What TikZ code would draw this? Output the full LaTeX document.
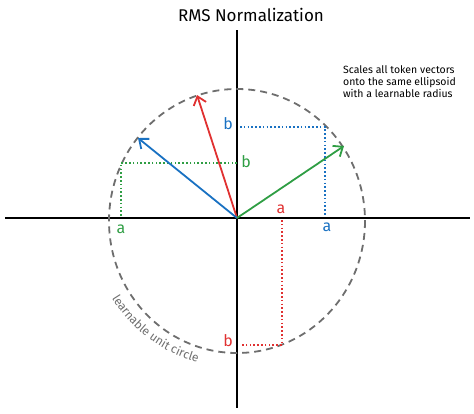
\documentclass[tikz,border=0pt]{standalone}
\usepackage{fontspec}
\setmainfont{Fira Sans}
\usetikzlibrary{arrows.meta,decorations.text}
\definecolor{xred}{HTML}{E03131}
\definecolor{xblue}{HTML}{1971C2}
\definecolor{xgreen}{HTML}{2F9E44}
\definecolor{xgray}{HTML}{6E6E6E}
\begin{document}
\begin{tikzpicture}[x=1pt,y=-1pt,
  axis/.style={line width=2pt,black},
  vec/.style={line width=1.8pt,-{Straight Barb[length=8pt,width=13pt,line width=1.8pt]}},
  proj/.style={line width=1.6pt,dash pattern=on 1.6pt off 2.2pt},
  lab/.style={font=\fontsize{16}{16}\selectfont,inner sep=0pt},
  note/.style={font=\fontsize{10.5}{12}\selectfont,align=left,inner sep=0pt}]
\useasboundingbox (0,0) rectangle (474,413);
% axes
\coordinate (O) at (237,218);
\coordinate (xl) at (5,218);
\coordinate (xr) at (470,218);
\coordinate (yt) at (237,30);
\coordinate (yb) at (237,408);
\draw[axis] (xl) -- (xr);
\draw[axis] (yt) -- (yb);
% circle
\coordinate (C) at (237,221);
\draw[xgray,line width=1.8pt,dash pattern=on 7pt off 5pt] (C) ellipse [x radius=128, y radius=132];
% tips
\coordinate (R) at (197,95);
\coordinate (B) at (138,138);
\coordinate (G) at (344,146);
% blue projections
\coordinate (bb1) at (240,127);
\coordinate (bb2) at (325,127);
\coordinate (bb3) at (325,216);
\draw[proj,xblue] (bb1) -- (bb2) -- (bb3);
% green projections
\coordinate (gg1) at (237,163);
\coordinate (gg2) at (121,163);
\coordinate (gg3) at (121,216);
\draw[proj,xgreen] (gg1) -- (gg2) -- (gg3);
% red projections
\coordinate (rr1) at (282,220);
\coordinate (rr2) at (282,345);
\coordinate (rr3) at (240,345);
\draw[proj,xred] (rr1) -- (rr2) -- (rr3);
% vectors
\draw[vec,xred] (O) -- (R);
\draw[vec,xblue] (O) -- (B);
\draw[vec,xgreen] (O) -- (G);
% labels
\node[lab,text=xblue] (lbb) at (228,124) {b};
\node[lab,text=xblue] (lba) at (327,227) {a};
\node[lab,text=xgreen] (lgb) at (246,162) {b};
\node[lab,text=xgreen] (lga) at (121,229) {a};
\node[lab,text=xred] (lra) at (281,209) {a};
\node[lab,text=xred] (lrb) at (228,341) {b};
% title and notes
\node[font=\fontsize{17}{17}\selectfont,inner sep=0pt] (title) at (251,15) {RMS Normalization};
\node[note,anchor=north west] (info) at (343,65) {Scales all token vectors\\onto the same ellipsoid\\with a learnable radius};
% curved label of the circle
\path[decorate,decoration={text along path,text align=center,
  text={|\fontsize{12}{12}\selectfont\color{xgray}|learnable unit circle}}]
  ([shift={(162:147)}]C) arc[start angle=162, end angle=92, radius=147];
\end{tikzpicture}
\end{document}
